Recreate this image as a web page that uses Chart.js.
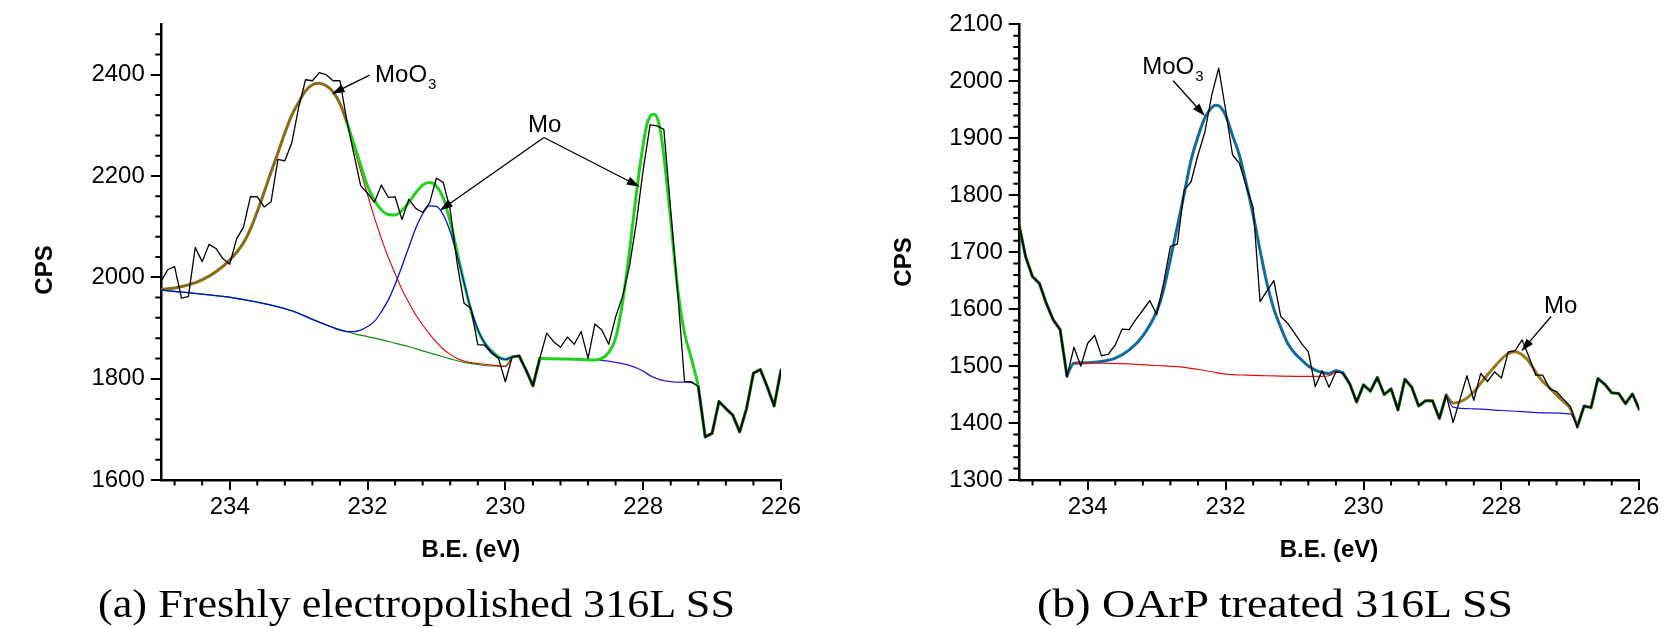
<!DOCTYPE html>
<html><head><meta charset="utf-8">
<script src="https://cdn.jsdelivr.net/npm/chart.js@4.4.1/dist/chart.umd.min.js"></script>
<style>
html,body{margin:0;padding:0;background:#fff;}
body{width:1668px;height:628px;position:relative;overflow:hidden;}
canvas{position:absolute;top:0;}
#ca{left:0;} #cb{left:840px;}
.cap{position:absolute;font-family:"Liberation Serif","Times New Roman",serif;font-size:41px;line-height:41px;white-space:nowrap;color:#000;transform-origin:0 0;}
</style></head>
<body>
<canvas id="ca" width="830" height="600"></canvas>
<canvas id="cb" width="828" height="600"></canvas>
<div class="cap" id="capA">(a) Freshly electropolished 316L SS</div>
<div class="cap" id="capB">(b) OArP treated 316L SS</div>
<script>
// ---------------- DATA ----------------
const beGrid = [
235.0,234.9,234.8,234.7,234.6,234.5,234.4,234.3,234.2,234.1,
234.0,233.9,233.8,233.7,233.6,233.5,233.4,233.3,233.2,233.1,
233.0,232.9,232.8,232.7,232.6,232.5,232.4,232.3,232.2,232.1,
232.0,231.9,231.8,231.7,231.6,231.5,231.4,231.3,231.2,231.1,
231.0,230.9,230.8,230.7,230.6,230.5,230.4,230.3,230.2,230.1,
230.0,229.9,229.8,229.7,229.6,229.5,229.4,229.3,229.2,229.1,
229.0,228.9,228.8,228.7,228.6,228.5,228.4,228.3,228.2,228.1,
228.0,227.9,227.8,227.7,227.6,227.5,227.4,227.3,227.2,227.1,
227.0,226.9,226.8,226.7,226.6,226.5,226.4,226.3,226.2,226.1,
226.0];

// (a) raw spectrum
const rawA = [
1991,2015,2021,1959,1962,2059,2031,2065,2057,2037,
2026,2076,2099,2159,2159,2139,2149,2233,2230,2265,
2335,2390,2388,2404,2400,2388,2388,2309,2244,2181,
2166,2148,2182,2158,2159,2114,2154,2136,2128,2147,
2196,2187,2133,2028,1949,1939,1867,1866,1850,1840,
1794,1843,1845,1817,1786,1840,1890,1873,1862,1882,
1868,1893,1840,1908,1896,1868,1922,1962,2021,2107,
2212,2301,2299,2292,2132,1971,1794,1794,1784,1685,
1692,1755,1741,1728,1695,1741,1811,1818,1784,1746,
1817];

// (b) raw spectrum
const rawB = [
1750,1692,1657,1645,1610,1581,1564,1482,1533,1500,
1540,1554,1518,1521,1537,1565,1564,1582,1598,1615,
1590,1645,1710,1714,1809,1824,1871,1911,1976,2023,
1950,1871,1856,1815,1778,1613,1632,1650,1587,1575,
1558,1540,1525,1464,1492,1463,1490,1488,1469,1437,
1467,1456,1480,1450,1460,1423,1477,1463,1430,1439,
1439,1408,1449,1401,1442,1483,1440,1487,1473,1490,
1479,1525,1527,1546,1516,1484,1484,1460,1455,1442,
1429,1393,1430,1427,1478,1468,1453,1452,1434,1451,
1424];

// (a) fit envelope, region 1 (MoO3 + Mo)
const envA1 = [[235.0,1976],[234.8,1979],[234.6,1985],[234.4,1995],[234.2,2011],[234.0,2034],[233.8,2068],[233.7,2095],[233.6,2130],[233.5,2168],[233.4,2208],[233.3,2246],[233.2,2285],[233.1,2320],[233.0,2345],[232.9,2368],[232.8,2380],[232.7,2383],[232.6,2378],[232.5,2366],[232.4,2343],[232.3,2306],[232.2,2264],[232.1,2222],[232.0,2180],[231.9,2152],[231.8,2133],[231.7,2124],[231.6,2123],[231.5,2132],[231.4,2148],[231.3,2167],[231.2,2182],[231.1,2187],[231.0,2180],[230.9,2156],[230.8,2110],[230.7,2050],[230.6,1990],[230.5,1935],[230.4,1895],[230.3,1870],[230.2,1855],[230.1,1843],[230.0,1838],[229.9,1843]];
// (a) MoO3 component
const moo3A = [[235.0,1976],[234.8,1979],[234.6,1985],[234.4,1995],[234.2,2011],[234.0,2034],[233.8,2068],[233.7,2095],[233.6,2130],[233.5,2168],[233.4,2208],[233.3,2246],[233.2,2285],[233.1,2320],[233.0,2345],[232.9,2368],[232.8,2380],[232.7,2383],[232.6,2378],[232.5,2365],[232.4,2340],[232.3,2303],[232.2,2257],[232.1,2210],[232.0,2163],[231.9,2118],[231.8,2077],[231.7,2040],[231.6,2007],[231.5,1976],[231.4,1950],[231.3,1926],[231.2,1906],[231.1,1888],[231.0,1872],[230.9,1858],[230.8,1848],[230.7,1840],[230.6,1835],[230.4,1830],[230.2,1827],[230.0,1824],[229.9,1843]];
// (a) Mo (oxide region) component
const moA1 = [[235.0,1975],[234.8,1972],[234.6,1970],[234.4,1967],[234.2,1964],[234.0,1961],[233.8,1956],[233.6,1951],[233.4,1945],[233.2,1938],[233.0,1929],[232.8,1917],[232.6,1906],[232.4,1896],[232.3,1893],[232.2,1893],[232.1,1896],[232.0,1903],[231.9,1913],[231.8,1932],[231.7,1955],[231.6,1986],[231.5,2022],[231.4,2060],[231.3,2097],[231.2,2125],[231.1,2141],[231.0,2140],[230.9,2123],[230.8,2090],[230.7,2043],[230.6,1990],[230.5,1938],[230.4,1898],[230.3,1870],[230.2,1853],[230.1,1842],[230.0,1838],[229.9,1843]];
// (a) background, region 1
const bgA1 = [[235.0,1975],[234.6,1970],[234.2,1964],[233.8,1956],[233.4,1945],[233.0,1929],[232.8,1917],[232.6,1906],[232.4,1897],[232.2,1889],[232.0,1883],[231.8,1877],[231.6,1870],[231.4,1863],[231.2,1855],[231.0,1847],[230.8,1839],[230.6,1832],[230.4,1828],[230.2,1825],[230.0,1825],[229.9,1843]];
// (a) fit envelope, region 2 (Mo metal)
const envA2 = [[229.5,1840],[229.2,1839],[228.9,1838],[228.7,1837],[228.6,1840],[228.5,1852],[228.4,1880],[228.3,1950],[228.2,2050],[228.1,2165],[228.0,2262],[227.95,2300],[227.9,2318],[227.85,2322],[227.8,2316],[227.75,2290],[227.7,2240],[227.6,2112],[227.5,1978],[227.4,1890],[227.3,1840],[227.2,1786]];
// (a) background, region 2
const bgA2 = [[229.5,1840],[229.2,1839],[228.9,1838],[228.6,1836],[228.4,1832],[228.2,1826],[228.0,1815],[227.9,1806],[227.8,1800],[227.7,1796],[227.6,1794],[227.5,1793],[227.4,1793],[227.3,1792],[227.2,1786]];

// (b) MoO3 fit
const moo3B = [[234.3,1484],[234.2,1505],[234.0,1506],[233.8,1508],[233.6,1514],[233.4,1528],[233.2,1553],[233.0,1596],[232.9,1634],[232.8,1688],[232.7,1745],[232.6,1803],[232.5,1862],[232.4,1903],[232.3,1936],[232.2,1954],[232.15,1958],[232.1,1957],[232.0,1940],[231.9,1905],[231.8,1870],[231.7,1820],[231.6,1765],[231.5,1703],[231.4,1645],[231.3,1600],[231.2,1568],[231.1,1540],[231.0,1523],[230.9,1511],[230.8,1500],[230.7,1493],[230.6,1489],[230.5,1487],[230.4,1492],[230.3,1488]];
// (b) background under MoO3
const bgB1 = [[234.2,1506],[233.8,1505],[233.4,1504],[233.0,1501],[232.7,1499],[232.4,1494],[232.2,1490],[232.0,1486],[231.7,1484],[231.4,1483],[231.0,1482],[230.6,1482],[230.5,1483],[230.4,1491]];
// (b) Mo fit
const moB = [[228.8,1449],[228.7,1435],[228.55,1440],[228.4,1455],[228.26,1476],[228.12,1496],[228.0,1512],[227.9,1522],[227.8,1525],[227.7,1520],[227.6,1508],[227.5,1489],[227.4,1473],[227.3,1462],[227.2,1449],[227.1,1438],[227.0,1425],[226.9,1395]];
// (b) background under Mo
const bgB2 = [[228.8,1449],[228.7,1428],[228.4,1425],[228.0,1422],[227.7,1420],[227.4,1418],[227.0,1416],[226.9,1393]];

// ranges where the envelope simply follows the raw data
const tailRangesA = [[229.9,229.5],[227.2,226.0]];
const tailRangesB = [[235.0,234.3],[230.3,228.8],[226.9,226.0]];

// axis ticks
const xMajor = [226,228,230,232,234];
const yMajorA = [1600,1800,2000,2200,2400];
const yMajorB = [1300,1400,1500,1600,1700,1800,1900,2000,2100];

// ---------------- HELPERS ----------------
const FONT = '"Liberation Sans", Arial, Helvetica, sans-serif';
const pts = arr => arr.map(([x,y]) => ({x,y}));
const rawPts = vals => beGrid.map((x,i) => ({x, y: vals[i]}));
const sub = (vals, [hi, lo]) => rawPts(vals).filter(p => p.x <= hi + 1e-9 && p.x >= lo - 1e-9);
function ln(data, color, width, extra) {
  return Object.assign({type:'line', data, borderColor: color, borderWidth: width, pointRadius: 0,
    fill: false, tension: 0, borderJoinStyle: 'round', borderCapStyle: 'round'}, extra || {});
}
const smooth = {cubicInterpolationMode: 'monotone'};

function drawArrow(ctx, x1, y1, x2, y2) {
  const a = Math.atan2(y2 - y1, x2 - x1), L = 13, W = 4.2;
  ctx.beginPath(); ctx.moveTo(x1, y1);
  ctx.lineTo(x2 - 0.7 * L * Math.cos(a), y2 - 0.7 * L * Math.sin(a)); ctx.stroke();
  ctx.beginPath(); ctx.moveTo(x2, y2);
  ctx.lineTo(x2 - L * Math.cos(a) + W * Math.sin(a), y2 - L * Math.sin(a) - W * Math.cos(a));
  ctx.lineTo(x2 - L * Math.cos(a) - W * Math.sin(a), y2 - L * Math.sin(a) + W * Math.cos(a));
  ctx.closePath(); ctx.fill();
}

const decor = d => ({
  id: 'decor',
  afterDraw(chart) {
    const {ctx, chartArea: ca} = chart;
    const xs = chart.scales.x, ys = chart.scales.y;
    ctx.save();
    ctx.strokeStyle = '#000'; ctx.fillStyle = '#000'; ctx.lineWidth = 2;
    // minor ticks
    ctx.beginPath();
    for (let k = 0; ; k++) {
      const v = xs.min + k * d.xMinor; if (v > xs.max + 1e-9) break;
      if (k % 5 === 0) continue;
      const px = xs.getPixelForValue(v);
      ctx.moveTo(px, ca.bottom); ctx.lineTo(px, ca.bottom + 5.5);
    }
    for (let k = 0; ; k++) {
      const v = ys.min + k * d.yMinor; if (v > ys.max + 1e-9) break;
      if (k % 5 === 0) continue;
      const py = ys.getPixelForValue(v);
      ctx.moveTo(ca.left, py); ctx.lineTo(ca.left - 5.5, py);
    }
    ctx.stroke();
    // y title
    ctx.save();
    ctx.font = 'bold 24px ' + FONT;
    ctx.translate(d.yTitle.x, d.yTitle.y); ctx.rotate(-Math.PI / 2);
    ctx.textAlign = 'center'; ctx.textBaseline = 'middle';
    ctx.fillText(d.yTitle.text, 0, 0);
    ctx.restore();
    // labels
    ctx.textBaseline = 'alphabetic'; ctx.textAlign = 'left';
    d.labels.forEach(l => {
      ctx.font = '24px ' + FONT;
      const w1 = ctx.measureText(l.text).width;
      ctx.font = '15px ' + FONT;
      const w2 = l.sub ? ctx.measureText(l.sub).width + 1 : 0;
      let px = xs.getPixelForValue(l.x);
      const py = ys.getPixelForValue(l.y);
      if (l.align === 'center') px -= (w1 + w2) / 2;
      ctx.font = '24px ' + FONT;
      ctx.fillText(l.text, px, py);
      if (l.sub) { ctx.font = '15px ' + FONT; ctx.fillText(l.sub, px + w1 + 1, py + 7); }
    });
    // arrows
    ctx.lineWidth = 1.3;
    d.arrows.forEach(([a, b, c, e]) => drawArrow(ctx, xs.getPixelForValue(a), ys.getPixelForValue(b),
      xs.getPixelForValue(c), ys.getPixelForValue(e)));
    ctx.restore();
  }
});

function makeChart(id, c) {
  return new Chart(document.getElementById(id), {
    type: 'line',
    data: {datasets: c.datasets},
    options: {
      responsive: false, maintainAspectRatio: false, animation: false, events: [],
      layout: {padding: {top: c.padTop, right: c.padRight, left: 0, bottom: 0}},
      plugins: {legend: {display: false}, tooltip: {enabled: false}},
      scales: {
        x: {
          type: 'linear', reverse: true, min: 226, max: 235,
          afterBuildTicks: s => { s.ticks = xMajor.map(v => ({value: v})); },
          afterFit: s => { s.height = 120; },
          grid: {drawOnChartArea: false, drawTicks: true, tickLength: 10, color: '#000', lineWidth: 2},
          border: {display: true, color: '#000', width: 2.5},
          ticks: {font: {family: FONT, size: 24}, color: '#000', padding: 3, maxRotation: 0, autoSkip: false,
                  callback: v => String(v)},
          title: {display: true, text: 'B.E. (eV)', color: '#000',
                  font: {family: FONT, size: 24, weight: 'bold'}, padding: {top: 0, bottom: 35}}
        },
        y: {
          type: 'linear', min: c.yMin, max: c.yMax,
          afterBuildTicks: s => { s.ticks = c.yMajor.map(v => ({value: v})); },
          afterFit: s => { s.width = c.yWidth; },
          grid: {drawOnChartArea: false, drawTicks: true, tickLength: 10, color: '#000', lineWidth: 2},
          border: {display: true, color: '#000', width: 2.5},
          ticks: {font: {family: FONT, size: 24}, color: '#000', padding: 6, autoSkip: false,
                  callback: v => String(v)}
        }
      }
    },
    plugins: [decor(c.decor)]
  });
}

// ---------------- CHART (a) ----------------
const GREEN = '#1ed21e', BROWN = '#8a6a12', TAIL = '#0a5a0a';
makeChart('ca', {
  padTop: 24, padRight: 49, yWidth: 160.8, yMin: 1600, yMax: 2500, yMajor: yMajorA,
  datasets: [
    ln(rawPts(rawA), '#000', 1.3, {order: 0}),
    ln(pts(moA1), '#0010d0', 1.3, Object.assign({order: 2}, smooth)),
    ln(pts(envA1), GREEN, 3, Object.assign({order: 3,
      segment: {borderColor: s => (s.p0.parsed.x >= 232.4 - 1e-9 ? BROWN : GREEN)}}, smooth)),
    ln(pts(envA2), GREEN, 3, Object.assign({order: 3}, smooth)),
    ln(pts(moo3A), '#e00000', 1.1, Object.assign({order: 4}, smooth)),
    ln(pts(bgA1), '#108a10', 1.2, Object.assign({order: 5}, smooth)),
    ln(pts(bgA2), '#3a18c8', 1.3, Object.assign({order: 5}, smooth)),
    ln(sub(rawA, tailRangesA[0]), TAIL, 3, {order: 6}),
    ln(sub(rawA, tailRangesA[1]), TAIL, 3, {order: 6})
  ],
  decor: {
    xMinor: 0.4, yMinor: 40,
    yTitle: {text: 'CPS', x: 45, y: 270},
    labels: [
      {text: 'MoO', sub: '3', x: 231.89, y: 2386, align: 'left'},
      {text: 'Mo', x: 229.43, y: 2286, align: 'center'}
    ],
    arrows: [[231.97, 2399, 232.52, 2362], [229.44, 2276, 230.95, 2132], [229.44, 2276, 228.05, 2179]]
  }
});

// ---------------- CHART (b) ----------------
const TEAL = '#0f6c9e', OLIVE = '#9a7816';
makeChart('cb', {
  padTop: 24.3, padRight: 28.7, yWidth: 178.75, yMin: 1300, yMax: 2100, yMajor: yMajorB,
  datasets: [
    ln(rawPts(rawB), '#000', 1.3, {order: 0}),
    ln(pts(bgB1), '#e01010', 1.2, Object.assign({order: 1}, smooth)),
    ln(pts(bgB2), '#1818d0', 1.2, Object.assign({order: 1}, smooth)),
    ln(pts(moo3B), TEAL, 3, Object.assign({order: 4}, smooth)),
    ln(pts(moB), OLIVE, 3, Object.assign({order: 4}, smooth)),
    ln(sub(rawB, tailRangesB[0]), TAIL, 3, {order: 6}),
    ln(sub(rawB, tailRangesB[1]), TAIL, 3, {order: 6}),
    ln(sub(rawB, tailRangesB[2]), TAIL, 3, {order: 6})
  ],
  decor: {
    xMinor: 0.4, yMinor: 20,
    yTitle: {text: 'CPS', x: 64, y: 262},
    labels: [
      {text: 'MoO', sub: '3', x: 233.21, y: 2012, align: 'left'},
      {text: 'Mo', x: 227.14, y: 1594, align: 'center'}
    ],
    arrows: [[232.76, 2001, 232.30, 1939], [227.28, 1587, 227.71, 1526]]
  }
});

// ---------------- CAPTIONS ----------------
function fitCaption(id, left, right, baseline) {
  const el = document.getElementById(id);
  el.style.left = left + 'px';
  el.style.top = (baseline - 34.3) + 'px';
  const w = el.getBoundingClientRect().width;
  el.style.transform = 'scaleX(' + ((right - left) / w) + ')';
}
fitCaption('capA', 98, 735, 617);
fitCaption('capB', 1037, 1513, 617);
</script>
</body></html>
